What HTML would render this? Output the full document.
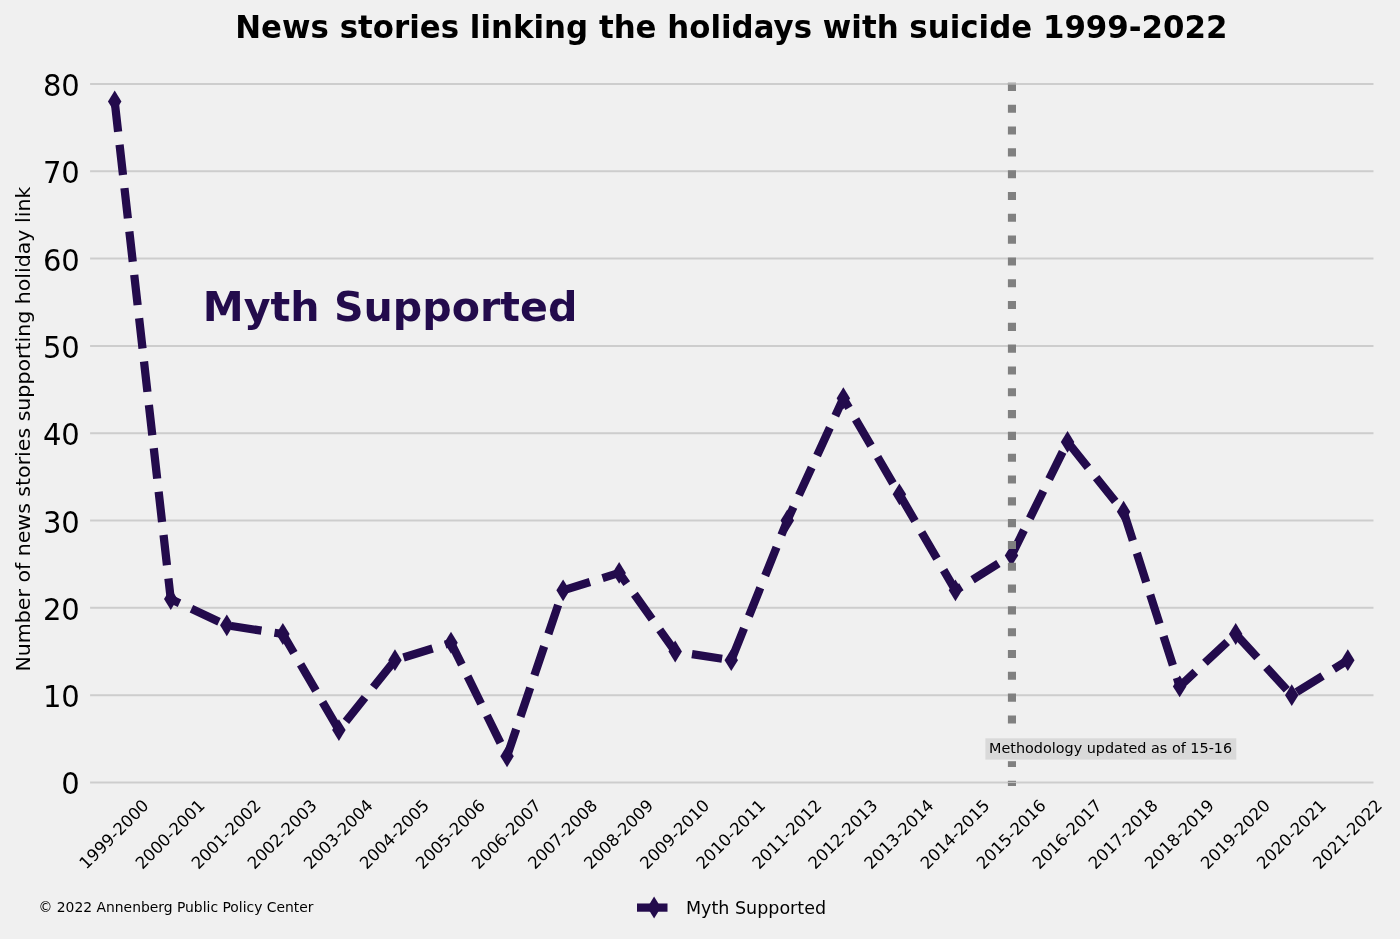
<!DOCTYPE html>
<html lang="en"><head><meta charset="utf-8">
<title>News stories linking the holidays with suicide 1999-2022</title>
<style>
html,body{margin:0;padding:0;background:#f0f0f0;}
body{width:1400px;height:939px;overflow:hidden;}
svg{display:block;}
text{font-family:"DejaVu Sans","Liberation Sans",sans-serif;fill:#000;}
</style></head><body>
<svg width="1400" height="939" viewBox="0 0 1400 939" role="img" aria-label="News stories linking the holidays with suicide 1999-2022">
<rect width="1400" height="939" fill="#f0f0f0"/>
<g stroke="#cdcdcd" stroke-width="2" fill="none">
<line x1="90.1" x2="1373.5" y1="782.45" y2="782.45"/>
<line x1="90.1" x2="1373.5" y1="695.13" y2="695.13"/>
<line x1="90.1" x2="1373.5" y1="607.82" y2="607.82"/>
<line x1="90.1" x2="1373.5" y1="520.51" y2="520.51"/>
<line x1="90.1" x2="1373.5" y1="433.19" y2="433.19"/>
<line x1="90.1" x2="1373.5" y1="345.88" y2="345.88"/>
<line x1="90.1" x2="1373.5" y1="258.56" y2="258.56"/>
<line x1="90.1" x2="1373.5" y1="171.25" y2="171.25"/>
<line x1="90.1" x2="1373.5" y1="83.93" y2="83.93"/>
</g>
<g>
<text transform="translate(79.80,794.45) scale(1,1.046)" font-size="29" text-anchor="end">0</text>
<text transform="translate(79.80,707.13) scale(1,1.046)" font-size="29" text-anchor="end">10</text>
<text transform="translate(79.80,619.82) scale(1,1.046)" font-size="29" text-anchor="end">20</text>
<text transform="translate(79.80,532.51) scale(1,1.046)" font-size="29" text-anchor="end">30</text>
<text transform="translate(79.80,445.19) scale(1,1.046)" font-size="29" text-anchor="end">40</text>
<text transform="translate(79.80,357.88) scale(1,1.046)" font-size="29" text-anchor="end">50</text>
<text transform="translate(79.80,270.56) scale(1,1.046)" font-size="29" text-anchor="end">60</text>
<text transform="translate(79.80,183.25) scale(1,1.046)" font-size="29" text-anchor="end">70</text>
<text transform="translate(79.80,95.93) scale(1,1.046)" font-size="29" text-anchor="end">80</text>
</g>
<g>
<text transform="translate(113.80,834.15) rotate(-45) scale(1,1.015)" font-size="16.45" text-anchor="middle" y="5.9">1999-2000</text>
<text transform="translate(169.87,834.15) rotate(-45) scale(1,1.015)" font-size="16.45" text-anchor="middle" y="5.9">2000-2001</text>
<text transform="translate(225.94,834.15) rotate(-45) scale(1,1.015)" font-size="16.45" text-anchor="middle" y="5.9">2001-2002</text>
<text transform="translate(282.01,834.15) rotate(-45) scale(1,1.015)" font-size="16.45" text-anchor="middle" y="5.9">2002-2003</text>
<text transform="translate(338.08,834.15) rotate(-45) scale(1,1.015)" font-size="16.45" text-anchor="middle" y="5.9">2003-2004</text>
<text transform="translate(394.15,834.15) rotate(-45) scale(1,1.015)" font-size="16.45" text-anchor="middle" y="5.9">2004-2005</text>
<text transform="translate(450.22,834.15) rotate(-45) scale(1,1.015)" font-size="16.45" text-anchor="middle" y="5.9">2005-2006</text>
<text transform="translate(506.29,834.15) rotate(-45) scale(1,1.015)" font-size="16.45" text-anchor="middle" y="5.9">2006-2007</text>
<text transform="translate(562.36,834.15) rotate(-45) scale(1,1.015)" font-size="16.45" text-anchor="middle" y="5.9">2007-2008</text>
<text transform="translate(618.43,834.15) rotate(-45) scale(1,1.015)" font-size="16.45" text-anchor="middle" y="5.9">2008-2009</text>
<text transform="translate(674.50,834.15) rotate(-45) scale(1,1.015)" font-size="16.45" text-anchor="middle" y="5.9">2009-2010</text>
<text transform="translate(730.57,834.15) rotate(-45) scale(1,1.015)" font-size="16.45" text-anchor="middle" y="5.9">2010-2011</text>
<text transform="translate(786.64,834.15) rotate(-45) scale(1,1.015)" font-size="16.45" text-anchor="middle" y="5.9">2011-2012</text>
<text transform="translate(842.71,834.15) rotate(-45) scale(1,1.015)" font-size="16.45" text-anchor="middle" y="5.9">2012-2013</text>
<text transform="translate(898.78,834.15) rotate(-45) scale(1,1.015)" font-size="16.45" text-anchor="middle" y="5.9">2013-2014</text>
<text transform="translate(954.85,834.15) rotate(-45) scale(1,1.015)" font-size="16.45" text-anchor="middle" y="5.9">2014-2015</text>
<text transform="translate(1010.92,834.15) rotate(-45) scale(1,1.015)" font-size="16.45" text-anchor="middle" y="5.9">2015-2016</text>
<text transform="translate(1066.99,834.15) rotate(-45) scale(1,1.015)" font-size="16.45" text-anchor="middle" y="5.9">2016-2017</text>
<text transform="translate(1123.06,834.15) rotate(-45) scale(1,1.015)" font-size="16.45" text-anchor="middle" y="5.9">2017-2018</text>
<text transform="translate(1179.13,834.15) rotate(-45) scale(1,1.015)" font-size="16.45" text-anchor="middle" y="5.9">2018-2019</text>
<text transform="translate(1235.20,834.15) rotate(-45) scale(1,1.015)" font-size="16.45" text-anchor="middle" y="5.9">2019-2020</text>
<text transform="translate(1291.27,834.15) rotate(-45) scale(1,1.015)" font-size="16.45" text-anchor="middle" y="5.9">2020-2021</text>
<text transform="translate(1347.34,834.15) rotate(-45) scale(1,1.015)" font-size="16.45" text-anchor="middle" y="5.9">2021-2022</text>
</g>
<polyline points="114.70,101.39 170.75,599.09 226.80,625.28 282.85,634.01 338.90,730.06 394.95,660.21 451.00,642.75 507.05,756.26 563.10,590.36 619.15,572.89 675.20,651.48 731.25,660.21 787.30,520.51 843.35,398.26 899.40,494.31 955.45,590.36 1011.50,555.43 1067.55,441.92 1123.60,511.77 1179.65,686.40 1235.70,634.01 1291.75,695.13 1347.80,660.21" fill="none" stroke="#230b4c" stroke-width="8.25" stroke-dasharray="30.47 13.17" stroke-linejoin="round"/>
<g fill="#230b4c">
<polygon points="114.70,90.49 121.45,101.39 114.70,112.29 107.95,101.39"/>
<polygon points="170.75,588.19 177.50,599.09 170.75,609.99 164.00,599.09"/>
<polygon points="226.80,614.38 233.55,625.28 226.80,636.18 220.05,625.28"/>
<polygon points="282.85,623.11 289.60,634.01 282.85,644.91 276.10,634.01"/>
<polygon points="338.90,719.16 345.65,730.06 338.90,740.96 332.15,730.06"/>
<polygon points="394.95,649.31 401.70,660.21 394.95,671.11 388.20,660.21"/>
<polygon points="451.00,631.85 457.75,642.75 451.00,653.65 444.25,642.75"/>
<polygon points="507.05,745.36 513.80,756.26 507.05,767.16 500.30,756.26"/>
<polygon points="563.10,579.46 569.85,590.36 563.10,601.26 556.35,590.36"/>
<polygon points="619.15,561.99 625.90,572.89 619.15,583.79 612.40,572.89"/>
<polygon points="675.20,640.58 681.95,651.48 675.20,662.38 668.45,651.48"/>
<polygon points="731.25,649.31 738.00,660.21 731.25,671.11 724.50,660.21"/>
<polygon points="787.30,509.61 794.05,520.51 787.30,531.41 780.55,520.51"/>
<polygon points="843.35,387.36 850.10,398.26 843.35,409.16 836.60,398.26"/>
<polygon points="899.40,483.41 906.15,494.31 899.40,505.21 892.65,494.31"/>
<polygon points="955.45,579.46 962.20,590.36 955.45,601.26 948.70,590.36"/>
<polygon points="1011.50,544.53 1018.25,555.43 1011.50,566.33 1004.75,555.43"/>
<polygon points="1067.55,431.02 1074.30,441.92 1067.55,452.82 1060.80,441.92"/>
<polygon points="1123.60,500.87 1130.35,511.77 1123.60,522.67 1116.85,511.77"/>
<polygon points="1179.65,675.50 1186.40,686.40 1179.65,697.30 1172.90,686.40"/>
<polygon points="1235.70,623.11 1242.45,634.01 1235.70,644.91 1228.95,634.01"/>
<polygon points="1291.75,684.24 1298.50,695.13 1291.75,706.03 1285.00,695.13"/>
<polygon points="1347.80,649.31 1354.55,660.21 1347.80,671.11 1341.05,660.21"/>
</g>
<line x1="1011.95" x2="1011.95" y1="82.9" y2="785.9" stroke="#808080" stroke-width="8.1" stroke-dasharray="8.1 13.71"/>
<rect x="1007.90" y="781.9" width="8.1" height="1" fill="#c4c4c4"/>
<rect x="1007.90" y="82.4" width="8.1" height="2.3" fill="#b2b2b2"/>
<text transform="translate(731.40,38.30) scale(1,1.015)" font-size="30.87" text-anchor="middle" font-weight="bold">News stories linking the holidays with suicide 1999-2022</text>
<text transform="translate(29.60,429.15) rotate(-90) scale(1,0.985)" font-size="20.55" text-anchor="middle">Number of news stories supporting holiday link</text>
<text transform="translate(202.80,321.00)" font-size="41.16" font-weight="bold" style="fill:#230b4c">Myth Supported</text>
<rect x="984.6" y="737.5" width="252.5" height="22.9" fill="#d9d9d9" stroke="#f0f0f0" stroke-width="1.6"/>
<text transform="translate(989.00,752.60) scale(1,1.03)" font-size="14.39">Methodology updated as of 15-16</text>
<text transform="translate(38.50,912.20) scale(1,1.04)" font-size="13.89">© 2022 Annenberg Public Policy Center</text>
<line x1="637" x2="667.5" y1="907.6" y2="907.6" stroke="#230b4c" stroke-width="8.25"/>
<polygon points="654.1,896.6 660.85,907.5 654.1,918.4 647.35,907.5" fill="#230b4c"/>
<text transform="translate(686.00,914.40)" font-size="17.5">Myth Supported</text>
</svg>
</body></html>
